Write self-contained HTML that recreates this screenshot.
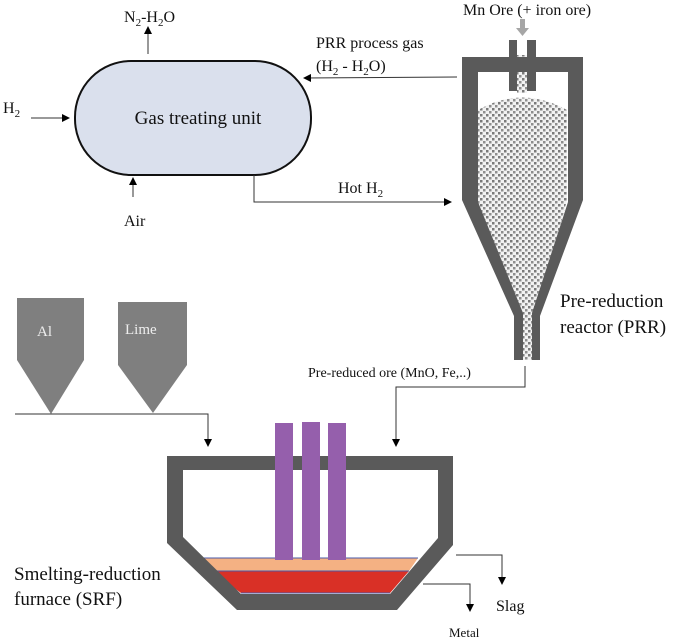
<!DOCTYPE html>
<html><head><meta charset="utf-8"><style>
html,body{margin:0;padding:0;background:#fff;}
svg{display:block;}
svg text{font-family:"Liberation Serif","DejaVu Serif","Times New Roman",serif;}
</style></head><body>
<svg width="685" height="641" viewBox="0 0 685 641" xmlns="http://www.w3.org/2000/svg">
<defs>
<pattern id="dots" width="6" height="6" patternUnits="userSpaceOnUse">
<rect width="6" height="6" fill="#f2f2f2"/>
<rect x="0" y="0" width="2.5" height="2.5" fill="#7a7a7a"/>
<rect x="3" y="3" width="2.5" height="2.5" fill="#8e8e8e"/>
</pattern>
<marker id="ar" markerWidth="8" markerHeight="8" refX="7" refY="4" orient="auto" markerUnits="userSpaceOnUse">
<path d="M0,0 L8,4 L0,8 z" fill="#000"/>
</marker>
</defs>
<g fill="#111">

<rect x="75" y="61" width="236" height="114" rx="56" ry="56" fill="#dae0ed" stroke="#111" stroke-width="2"/>
<text x="198" y="124" font-size="19" text-anchor="middle">Gas treating unit</text>
<line x1="148" y1="54" x2="148" y2="27" stroke="#333" stroke-width="1" marker-end="url(#ar)"/>
<text x="124" y="22" font-size="16">N<tspan font-size="11" dy="4">2</tspan><tspan dy="-4">-H</tspan><tspan font-size="11" dy="4">2</tspan><tspan dy="-4">O</tspan></text>
<text x="3" y="113" font-size="16">H<tspan font-size="11" dy="4">2</tspan></text>
<line x1="31" y1="118" x2="69" y2="118" stroke="#333" stroke-width="1" marker-end="url(#ar)"/>
<line x1="133" y1="197" x2="133" y2="178" stroke="#333" stroke-width="1" marker-end="url(#ar)"/>
<text x="124" y="226" font-size="16">Air</text>
<text x="316" y="48" font-size="16">PRR process gas</text>
<text x="316" y="71" font-size="16">(H<tspan font-size="11" dy="4">2</tspan><tspan dy="-4"> - H</tspan><tspan font-size="11" dy="4">2</tspan><tspan dy="-4">O)</tspan></text>
<line x1="457" y1="77" x2="304" y2="78" stroke="#333" stroke-width="1" marker-end="url(#ar)"/>
<polyline points="254,175 254,202 451,202" fill="none" stroke="#333" stroke-width="1" marker-end="url(#ar)"/>
<text x="338" y="193" font-size="16">Hot H<tspan font-size="11" dy="4">2</tspan></text>

<text x="463" y="15" font-size="16">Mn Ore (+ iron ore)</text>
<rect x="520" y="19" width="5" height="10" fill="#a6a6a6"/>
<path d="M516,28 L529,28 L522.5,36 z" fill="#a6a6a6"/>
<path d="M477,72 L567,72 L567,200 L537,313 L537,360 L523,360 L523,313 L477,200 z" fill="url(#dots)"/>
<path d="M478,200 L478,110 Q522,85 567,110 L567,72 L478,72 z" fill="#fff"/>
<rect x="517" y="55" width="10" height="38" fill="url(#dots)"/>
<path d="M462,57 L583,57 L583,200 L540,316 L540,360 L532,360 L532,313 L568,202 L568,72 L478,72 L478,202 L523,313 L523,360 L514,360 L514,316 L462,200 z" fill="#5a5a5a"/>
<rect x="509" y="40" width="8" height="51" fill="#5a5a5a"/>
<rect x="527" y="40" width="9" height="51" fill="#5a5a5a"/>
<text x="560" y="307" font-size="19">Pre-reduction</text>
<text x="560" y="333" font-size="19">reactor  (PRR)</text>

<path d="M17,298 L84,298 L84,360 L51,414 L17,360 z" fill="#7f7f7f"/>
<path d="M118,302 L187,302 L187,365 L153,413 L118,365 z" fill="#7f7f7f"/>
<text x="37" y="336" font-size="15" fill="#eeeeee">Al</text>
<text x="125" y="334" font-size="15" fill="#eeeeee">Lime</text>
<polyline points="15,414 208,414 208,446" fill="none" stroke="#333" stroke-width="1" marker-end="url(#ar)"/>

<text x="308" y="377" font-size="14">Pre-reduced ore (MnO, Fe,..)</text>
<polyline points="525,366 525,387 396,387 396,446" fill="none" stroke="#333" stroke-width="1" marker-end="url(#ar)"/>

<path d="M201,558 L418,558 L409,571 L211,571 z" fill="#f4b183"/>
<path d="M211,571 L409,571 L390,593 L241,593 z" fill="#d93026"/>
<line x1="201" y1="558" x2="418" y2="558" stroke="#4a5aa8" stroke-width="1"/>
<line x1="211" y1="571" x2="409" y2="571" stroke="#4a5aa8" stroke-width="1"/>
<line x1="241" y1="593" x2="390" y2="593" stroke="#4a5aa8" stroke-width="1"/>
<path d="M167,456 L453,456 L453,545 L397,610 L237,610 L167,543 z M183,470 L183,537 L241,594 L390,594 L438,538 L438,470 z" fill="#5a5a5a" fill-rule="evenodd"/>
<rect x="275" y="423" width="18" height="137" fill="#955fac"/>
<rect x="302" y="422" width="18" height="138" fill="#955fac"/>
<rect x="328" y="423" width="18" height="137" fill="#955fac"/>

<polyline points="456,555 502,555 502,584" fill="none" stroke="#333" stroke-width="1" marker-end="url(#ar)"/>
<text x="496" y="611" font-size="16">Slag</text>
<polyline points="423,584 470,584 470,611" fill="none" stroke="#333" stroke-width="1" marker-end="url(#ar)"/>
<text x="449" y="637" font-size="13">Metal</text>

<text x="14" y="580" font-size="19">Smelting-reduction</text>
<text x="14" y="605" font-size="19">furnace  (SRF)</text>
</g>
</svg>
</body></html>
